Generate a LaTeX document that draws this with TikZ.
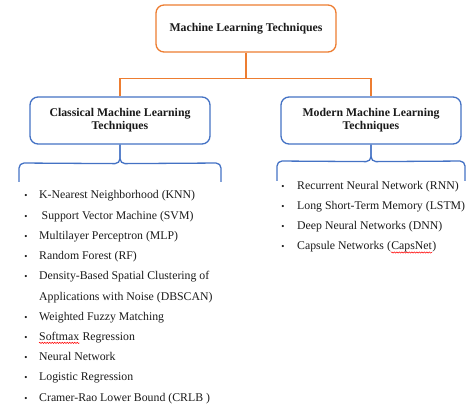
\documentclass[tikz,border=0pt]{standalone}
\usepackage{fontspec}
\setmainfont{Liberation Serif}
\usetikzlibrary{decorations.pathmorphing}
\definecolor{orng}{HTML}{ED7D31}
\definecolor{blu}{HTML}{4472C4}
\definecolor{txt}{HTML}{1A1A1A}
\begin{document}
\begin{tikzpicture}[x=1pt,y=-1pt,
  boxbase/.style={line width=1.3pt, rounded corners=8pt, fill=white, minimum width=180pt, minimum height=47pt, align=center, text=txt, font=\fontsize{11.8}{13}\selectfont\bfseries},
  topbox/.style={boxbase, draw=orng},
  subbox/.style={boxbase, draw=blu},
  orline/.style={draw=orng, line width=1.3pt},
  bracepath/.style={draw=blu, line width=1.3pt, rounded corners=5pt},
  item/.style={anchor=base west, inner sep=0pt, text=txt, font=\fontsize{11.8}{14}\selectfont},
  bul/.style={anchor=base, inner sep=0pt, text=txt, font=\fontsize{9}{11}\selectfont},
  squig/.style={draw=red, line width=0.5pt, decorate, decoration={snake, amplitude=0.6pt, segment length=2.5pt}}]
\useasboundingbox (0,0) rectangle (474,406);

% boxes
\node[topbox] (top) at (246,28.5) {Machine Learning Techniques};
\node[subbox] (lbox) at (120,120.5) {Classical Machine Learning\\Techniques};
\node[subbox] (rbox) at (371,120.5) {Modern Machine Learning\\Techniques};

% connectors
\coordinate (j) at (246,79);
\draw[orline] (top.south) -- (j);
\draw[orline] (lbox.north) -- ++(0,-18) -| (rbox.north);

% braces
\draw[bracepath] (lbox.south) -- ++(0,19) -- (19,163) -- (19,182);
\draw[bracepath] (lbox.south) -- ++(0,19) -- (221,163) -- (221,182);
\draw[bracepath] (rbox.south) -- ++(0,17) -- (277,161) -- (277,181);
\draw[bracepath] (rbox.south) -- ++(0,17) -- (465,161) -- (465,181);

% left items
\foreach \i/\y in {1/199,2/219.2,3/239.4,4/259.6,5/279.8,7/320.2,8/340.4,9/360.6,10/380.8,11/401}
  \node[bul] (lb\i) at (26,\y) {\textbullet};
\node[item] (l1) at (39,199) {K-Nearest Neighborhood (KNN)};
\node[item] (l2) at (41.5,219.2) {Support Vector Machine (SVM)};
\node[item] (l3) at (39,239.4) {Multilayer Perceptron (MLP)};
\node[item] (l4) at (39,259.6) {Random Forest (RF)};
\node[item] (l5) at (39,279.8) {Density-Based Spatial Clustering of};
\node[item] (l6) at (39,300) {Applications with Noise (DBSCAN)};
\node[item] (l7) at (39,320.2) {Weighted Fuzzy Matching};
\node[item] (l8) at (39,340.4) {Softmax};
\node[item] (l8b) at (l8.base east) {\ Regression};
\draw[squig] ([yshift=-2.5pt]l8.base west) -- ([yshift=-2.5pt]l8.base east);
\node[item] (l9) at (39,360.6) {Neural Network};
\node[item] (l10) at (39,380.8) {Logistic Regression};
\node[item] (l11) at (39,401) {Cramer-Rao Lower Bound (CRLB )};

% right items
\foreach \i/\y in {1/190,2/210,3/230,4/250}
  \node[bul] (rb\i) at (283,\y) {\textbullet};
\node[item] (r1) at (297,190) {Recurrent Neural Network (RNN)};
\node[item] (r2) at (297,210) {Long Short-Term Memory (LSTM)};
\node[item] (r3) at (297,230) {Deep Neural Networks (DNN)};
\node[item] (r4) at (297,250) {Capsule Networks (};
\node[item] (r4b) at (r4.base east) {CapsNet};
\node[item] (r4c) at (r4b.base east) {)};
\draw[squig] ([yshift=-2.5pt]r4b.base west) -- ([yshift=-2.5pt]r4b.base east);
\end{tikzpicture}
\end{document}
